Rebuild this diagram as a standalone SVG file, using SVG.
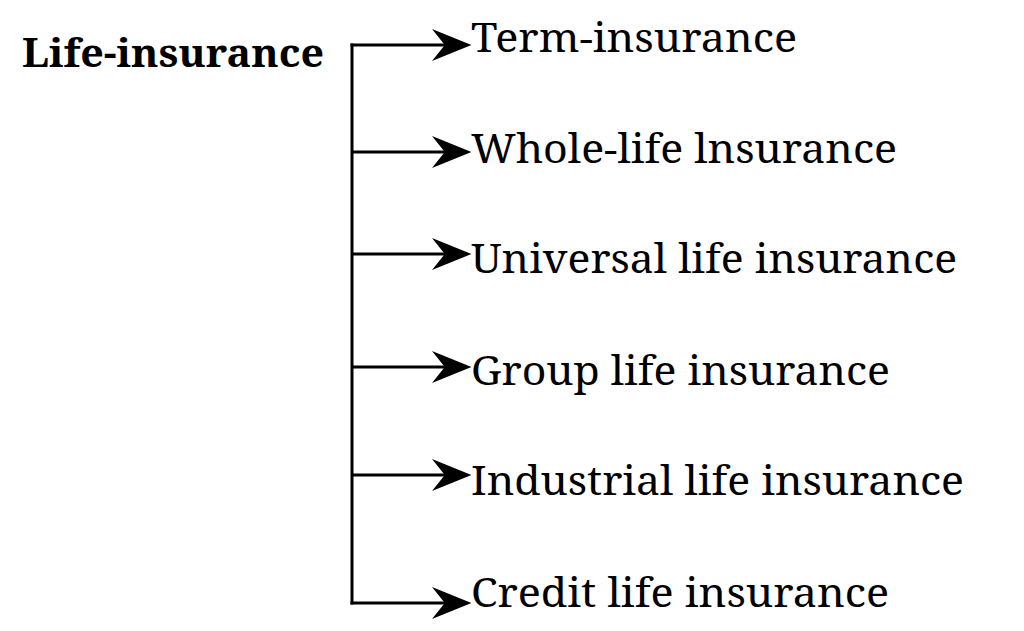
<svg xmlns="http://www.w3.org/2000/svg" width="1024" height="631" viewBox="0 0 1024 631">
<style>
.lbl{font-family:"Noto Serif","DejaVu Serif","Liberation Serif",serif;font-size:40px;fill:#000}
.root{font-family:"Noto Serif","DejaVu Serif","Liberation Serif",serif;font-size:40px;font-weight:bold;fill:#000}
.ln{stroke:#000;stroke-width:3;fill:none}
</style>
<defs>
<marker id="ah" markerUnits="userSpaceOnUse" markerWidth="40" markerHeight="32" viewBox="0 0 37 30" refX="15" refY="15" orient="auto">
<path d="M0,0 L37,15 L0,30 L12,15 z" fill="#000"/>
</marker>
</defs>
<rect width="1024" height="631" fill="#fff"/>
<g id="connectors">
<line class="ln" x1="352" y1="43.5" x2="352" y2="604.5"/>
<line class="ln" x1="350.5" y1="45" x2="448" y2="45" marker-end="url(#ah)"/>
<line class="ln" x1="352" y1="152" x2="448" y2="152" marker-end="url(#ah)"/>
<line class="ln" x1="352" y1="254" x2="448" y2="254" marker-end="url(#ah)"/>
<line class="ln" x1="352" y1="367" x2="448" y2="367" marker-end="url(#ah)"/>
<line class="ln" x1="352" y1="475" x2="448" y2="475" marker-end="url(#ah)"/>
<line class="ln" x1="350.5" y1="603" x2="448" y2="603" marker-end="url(#ah)"/>
</g>
<g id="node-life-insurance"><text class="root" x="22" y="67" textLength="302" lengthAdjust="spacingAndGlyphs">Life-insurance</text></g>
<g id="node-term"><text class="lbl" x="471" y="52" textLength="326" lengthAdjust="spacingAndGlyphs">Term-insurance</text></g>
<g id="node-whole"><text class="lbl" x="471" y="163" textLength="426" lengthAdjust="spacingAndGlyphs">Whole-life lnsurance</text></g>
<g id="node-universal"><text class="lbl" x="471" y="273" textLength="486" lengthAdjust="spacingAndGlyphs">Universal life insurance</text></g>
<g id="node-group"><text class="lbl" x="471" y="385" textLength="419" lengthAdjust="spacingAndGlyphs">Group life insurance</text></g>
<g id="node-industrial"><text class="lbl" x="471" y="495" textLength="493" lengthAdjust="spacingAndGlyphs">Industrial life insurance</text></g>
<g id="node-credit"><text class="lbl" x="471" y="607" textLength="418" lengthAdjust="spacingAndGlyphs">Credit life insurance</text></g>
</svg>
